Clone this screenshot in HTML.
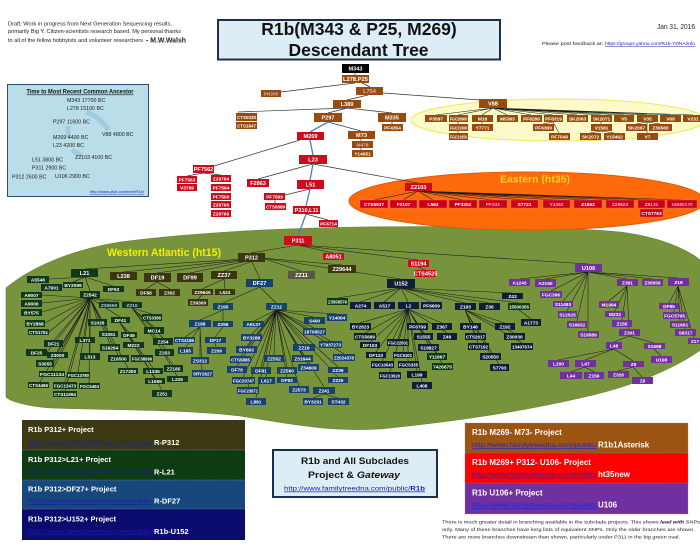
<!DOCTYPE html>
<html><head><meta charset="utf-8"><style>
html,body{margin:0;padding:0;background:#fff;width:700px;height:544px;overflow:hidden}
svg{display:block;font-family:"Liberation Sans",Arial,sans-serif}
.bx text{fill:#fff;font-weight:bold;font-size:4.8px;text-anchor:middle}
.big text{font-size:5.6px}
.ln{fill:none;stroke:#1c1c1c;stroke-width:0.55}
</style></head><body>
<svg width="700" height="544" viewBox="0 0 700 544" xmlns="http://www.w3.org/2000/svg">
<!-- Top-left draft note -->
<g font-size="5" fill="#222">
<text x="8" y="25.5" textLength="164" lengthAdjust="spacingAndGlyphs">Draft: Work in progress from Next Generation Sequencing results,</text>
<text x="8" y="33" textLength="173" lengthAdjust="spacingAndGlyphs">primarily Big Y. Citizen-scientists research based. My personal thanks</text>
<text x="8" y="42" textLength="135" lengthAdjust="spacingAndGlyphs">to all of the fellow hobbyists and volunteer researchers</text>
<text x="146" y="42.5" font-size="7" font-weight="bold" textLength="40" lengthAdjust="spacingAndGlyphs">- M.W.Walsh</text>
</g>
<!-- TMRCA box -->
<rect x="7.5" y="84.5" width="141" height="112" fill="#b9dde9" stroke="#2e4e70" stroke-width="1"/>
<g stroke="#9cc8de" stroke-width="5" fill="none" opacity="0.8">
<path d="M86,112 C96,116 104,122 108,130"/>
<path d="M68,126 L68,138"/>
<path d="M72,150 L82,156"/>
</g>
<text x="80" y="93.5" font-size="6" font-weight="bold" text-anchor="middle" text-decoration="underline" fill="#111" textLength="107" lengthAdjust="spacingAndGlyphs">Time to Most Recent Common Ancestor</text>
<g font-size="5.3" fill="#222">
<text x="67" y="102">M343  17700 BC</text>
<text x="67" y="110">L278  15100 BC</text>
<text x="53" y="123.5">P297   11600 BC</text>
<text x="102" y="136">V88  4800 BC</text>
<text x="53" y="139">M269  4400 BC</text>
<text x="53" y="147">L23    4200 BC</text>
<text x="75" y="159">Z2103 4100 BC</text>
<text x="32" y="161.5">L51    3800 BC</text>
<text x="32" y="169.5">P311   2900 BC</text>
<text x="12" y="178.5">P312  2600 BC</text>
<text x="55" y="178">U106  2900 BC</text>
</g>
<text x="90" y="193" font-size="3.6" fill="#1a1ab0" text-decoration="underline" textLength="54" lengthAdjust="spacingAndGlyphs">http://www.yfull.com/tree/R1b/</text>
<!-- Title -->
<rect x="218" y="20" width="282" height="39.5" fill="#dcedf5" stroke="#1f2d4d" stroke-width="2"/>
<text x="359" y="35" font-size="17.5" font-weight="bold" text-anchor="middle" fill="#111">R1b(M343 &amp; P25, M269)</text>
<text x="358.5" y="56" font-size="17.5" font-weight="bold" text-anchor="middle" fill="#111">Descendant Tree</text>
<text x="657" y="29" font-size="7" fill="#222" textLength="38" lengthAdjust="spacingAndGlyphs">Jan 31, 2016</text>
<text x="542" y="45" font-size="4.8" fill="#222" textLength="61" lengthAdjust="spacingAndGlyphs">Please post feedback at:</text>
<text x="605" y="45" font-size="4.8" fill="#1a1ab0" text-decoration="underline" textLength="90" lengthAdjust="spacingAndGlyphs">https://groups.yahoo.com/R1b-YDNA/info</text>

<!-- big shapes -->
<path d="M6,288 C30,268 70,250 120,242 C190,233 280,228 360,227 C450,226 560,226 620,232 C660,237 690,250 702,262 L702,349 C680,365 640,385 580,398 C520,412 450,422 380,429 C330,432 290,424 240,416 C180,409 100,410 50,408 C25,406 10,401 6,397 Z" fill="#77933c" stroke="#66803a" stroke-width="0.6"/>
<ellipse cx="558" cy="120" rx="147" ry="21" fill="#fbfac8" stroke="#efe85a" stroke-width="1"/>
<ellipse cx="527" cy="201" rx="178" ry="29" fill="#fd6a0c" stroke="#e25800" stroke-width="1"/>
<text x="535" y="182.5" font-size="10.5" font-weight="bold" text-anchor="middle" fill="#f6d31c" textLength="70" lengthAdjust="spacingAndGlyphs">Eastern (ht35)</text>
<text x="107" y="256" font-size="11" font-weight="bold" fill="#f2f000" textLength="114" lengthAdjust="spacingAndGlyphs">Western Atlantic (ht15)</text>

<!-- top lines -->
<path stroke="#333" stroke-width="0.7" fill="none" d="M355,73 L355,75 M355,83 L281,92 M362,83 L370,87 M368,95 L347,100 M383,93 L480,100 M347,108 L238,112 M347,108 L328,113 M347,108 L392,113 M328,122 L361,131 M361,139 L361,141 M361,148 L361,150 M392,122 L392,124 M300,140 L214,166 M313,164 L258,179 M313,164 L418,183 M310,189 L285,195 M275,200 L275,203 M306,214 L328,220 M203,173 L187,176 M203,173 L221,175"/>
<path stroke="#4d7cc0" stroke-width="1.3" fill="none" d="M328,122 L310,132 M310,140 L313,155 M313,164 L310,180 M310,189 L306,206 M306,214 L298,236"/>
<path class="ln" d="M418,191 L374,200 M418,191 L403,200 M418,191 L433,200 M418,191 L463,200 M418,191 L493,200 M418,191 L524,200 M418,191 L556,200 M418,191 L588,200 M418,191 L620,200 M418,191 L651,200 M418,191 L682,200 M651,208 L651,209"/>
<path class="ln" d="M493,108 L436,115 M493,108 L458,115 M493,108 L482,115 M493,108 L507,115 M493,108 L531,115 M493,108 L553,115 M493,108 L577,115 M493,108 L601,115 M493,108 L624,115 M493,108 L647,115 M493,108 L670,115 M493,108 L693,115 M458,122 L458,133 M482,122 L482,124 M553,122 L543,124 M553,122 L559,133 M601,122 L601,124 M601,131 L590,133 M601,131 L614,133 M647,122 L636,124 M647,122 L660,124 M647,122 L647,133"/>

<!-- green lines -->
<path class="ln" d="
M298,245 L251,253 M298,245 L333,253 M298,245 L418,260 M298,245 L588,264 M418,267 L425,270
M262,258 L85,269 M262,258 L123,272 M262,258 L157,273 M262,258 L190,273 M262,258 L224,271 M262,258 L301,271 M252,262 L260,279 M262,258 L342,265 M262,258 L401,279
M85,277 L49,279 M85,277 L62,287 M85,277 L73,282 M85,277 L113,286 M85,277 L90,291
M90,298 L42,295 M90,298 L42,303 M90,298 L42,312 M90,298 L45,323 M90,298 L49,332 M90,298 L54,340 M90,298 L47,352 M90,298 L57,352 M90,298 L54,363 M90,298 L52,371 M90,298 L40,382 M90,298 L65,382 M90,298 L65,391 M90,298 L78,372 M90,298 L89,383 M90,298 L85,337 M90,298 L90,353 M90,298 L97,319 M90,298 L108,331 M90,298 L110,344 M90,298 L109,302 M90,298 L132,302 M90,298 L120,317 M90,298 L118,355 M90,298 L128,368
M132,308 L152,314 M132,308 L154,327 M132,308 L163,338 M132,308 L165,349 M132,308 L173,365 M165,356 L177,376
M120,323 L129,332 M120,323 L133,342 M120,323 L142,355 M120,323 L153,368 M120,323 L155,378 M120,323 L162,390
M157,282 L146,289 M157,282 L170,289 M224,279 L202,289 M224,279 L225,289 M202,295 L198,299
M260,287 L223,303 M260,287 L276,303
M223,310 L200,320 M223,310 L223,321 M200,327 L185,337 M200,327 L186,347 M200,327 L200,357 M200,327 L202,370 M223,327 L215,337 M215,343 L216,347
M276,310 L254,321 M276,310 L252,334 M276,310 L247,346 M276,310 L241,356 M276,310 L237,366 M276,310 L243,377 M276,310 L248,387 M276,310 L256,398 M276,310 L261,367 M276,310 L266,377 M276,310 L274,355 M276,310 L287,367 M276,310 L287,377 M276,310 L299,386 M276,310 L304,344 M276,310 L302,355 M276,310 L308,364 M276,310 L324,387 M276,310 L338,367 M276,310 L338,377 M276,310 L314,317 M276,310 L337,314 M276,310 L314,328 M276,310 L330,341 M276,310 L344,354 M324,394 L313,398 M324,394 L338,398
M401,288 L338,298 M401,288 L360,302 M401,288 L384,302 M401,288 L408,302 M401,288 L431,302 M401,288 L465,303 M401,288 L489,303 M401,288 L519,303 M401,288 L512,293 M519,310 L531,319
M408,309 L360,323 M408,309 L365,333 M408,309 L370,342 M408,309 L376,352 M408,309 L382,361 M408,309 L390,372 M408,309 L398,339 M408,309 L403,352 M408,309 L408,361 M408,309 L417,371 M408,309 L422,382 M408,309 L417,323 M408,309 L423,333 M408,309 L428,344 M408,309 L442,323 M408,309 L447,333 M408,309 L437,353 M408,309 L442,363
M465,310 L470,323 M465,310 L475,333 M465,310 L478,343 M465,310 L490,353 M465,310 L499,364 M465,310 L505,323 M465,310 L514,333 M465,310 L522,343
M588,272 L520,279 M588,272 L545,279 M588,272 L551,291 M588,272 L563,301 M588,272 L567,311 M588,272 L577,321 M588,272 L588,331 M588,272 L627,279 M588,272 L652,279 M588,272 L678,278
M627,286 L609,301 M627,286 L615,311 M627,286 L622,320 M627,286 L629,329 M629,336 L614,342 M629,336 L654,343
M614,349 L558,360 M614,349 L585,360 M614,349 L633,361 M585,367 L571,372 M585,367 L594,372 M633,367 L618,371 M633,367 L642,377 M654,349 L661,356
M678,286 L669,303 M678,286 L674,312 M678,286 L680,321 M678,286 L685,329 M678,286 L694,338"/>

<!-- TOP BOXES -->
<g class="bx big">
<rect x="342" y="64" width="27" height="9" fill="#000"/><text x="355.5" y="70.3">M343</text>
<g fill="#984b0c"><rect x="342" y="75" width="27" height="8"/><rect x="356" y="87" width="27" height="8"/><rect x="333" y="100" width="28" height="8"/><rect x="314" y="113" width="28" height="9"/><rect x="378" y="113" width="28" height="9"/><rect x="348" y="131" width="27" height="8"/><rect x="479" y="99" width="28" height="9"/></g>
<text x="355.5" y="80.8" textLength="25" lengthAdjust="spacingAndGlyphs">L278,P25</text>
<text x="369.5" y="92.8" style="fill:#f0a8c0">L754</text>
<text x="347" y="105.8">L389</text>
<text x="328" y="119.3">P297</text>
<text x="392" y="119.3">M335</text>
<text x="361.5" y="136.8">M73</text>
<text x="493" y="105.3">V88</text>
<g fill="#cc0c1c"><rect x="297" y="132" width="27" height="8"/><rect x="299" y="155" width="28" height="9"/><rect x="297" y="180" width="27" height="9"/><rect x="293" y="206" width="27" height="8"/><rect x="284" y="236" width="28" height="9"/><rect x="405" y="183" width="27" height="8"/><rect x="193" y="165" width="21" height="8"/><rect x="247" y="179" width="22" height="8"/></g>
<text x="310.5" y="137.8">M269</text>
<text x="313" y="161.3">L23</text>
<text x="310.5" y="186.3">L51</text>
<text x="306.5" y="211.8" textLength="24" lengthAdjust="spacingAndGlyphs">P310,L11</text>
<text x="298" y="242.3">P311</text>
<text x="418.5" y="188.8">Z2103</text>
<text x="203.5" y="170.8" font-size="5">PF7562</text>
<text x="258" y="184.8" font-size="5">F2863</text>
</g>
<g class="bx">
<g fill="#984b0c"><rect x="261" y="90" width="20" height="7"/><rect x="236" y="113" width="21" height="8"/><rect x="236" y="122" width="21" height="7"/><rect x="382" y="124" width="21" height="7"/><rect x="352" y="141" width="21" height="7"/><rect x="352" y="150" width="21" height="7"/></g>
<text x="271" y="95.3" style="fill:#f0a8c0">PH200</text>
<text x="246.5" y="118.8" textLength="19" lengthAdjust="spacingAndGlyphs">CTS5330</text>
<text x="246.5" y="127.3" textLength="19" lengthAdjust="spacingAndGlyphs">CTS1647</text>
<text x="392.5" y="129.3">PF4354</text>
<text x="362.5" y="146.3" style="fill:#f0a8c0">M478</text>
<text x="362.5" y="155.3">Y14051</text>
<g fill="#cc0c1c"><rect x="264" y="193" width="21" height="7"/><rect x="265" y="203" width="21" height="7"/><rect x="319" y="220" width="19" height="7"/><rect x="177" y="176" width="20" height="7"/><rect x="177" y="184" width="20" height="7"/><rect x="211" y="175" width="20" height="7"/><rect x="211" y="184" width="20" height="7"/><rect x="211" y="193" width="20" height="7"/><rect x="211" y="201" width="20" height="7"/><rect x="211" y="210" width="20" height="7"/></g>
<text x="274.5" y="198.3">PF7589</text>
<text x="275.5" y="208.3" textLength="19" lengthAdjust="spacingAndGlyphs">CTS6889</text>
<text x="328.5" y="225.3">PF6714</text>
<text x="187" y="181.3">PF7563</text>
<text x="187" y="189.3">V3789</text>
<text x="221" y="180.3">Z29764</text>
<text x="221" y="189.3">PF7564</text>
<text x="221" y="198.3">PF7560</text>
<text x="221" y="206.3">Z29766</text>
<text x="221" y="215.3">Z29769</text>
</g>
<!-- orange row -->
<g class="bx">
<g fill="#c8001a" stroke="#f07080" stroke-width="0.4"><rect x="360" y="200" width="28" height="8"/><rect x="390" y="200" width="27" height="8"/><rect x="419" y="200" width="28" height="8"/><rect x="449" y="200" width="28" height="8"/><rect x="479" y="200" width="28" height="8"/><rect x="511" y="200" width="27" height="8"/><rect x="543" y="200" width="27" height="8"/><rect x="574" y="200" width="28" height="8"/><rect x="606" y="200" width="28" height="8"/><rect x="638" y="200" width="27" height="8"/><rect x="667" y="200" width="30" height="8"/><rect x="640" y="209" width="23" height="8"/></g>
<text x="374" y="205.8" font-size="5.4">CTS6937</text>
<text x="403.5" y="205.8" font-size="5.4">F2107</text>
<text x="433" y="205.8" font-size="5.4">L584</text>
<text x="463" y="205.8" font-size="5.4">PF3252</text>
<text x="493" y="205.8" font-size="5.4" style="fill:#f6b0c8">PF331</text>
<text x="524.5" y="205.8" font-size="5.4">S7721</text>
<text x="556.5" y="205.8" font-size="5.4" style="fill:#f6b0c8">Y4362</text>
<text x="588" y="205.8" font-size="5.4">Z1862</text>
<text x="620" y="205.8" font-size="5.4" style="fill:#f6b0c8">Z29823</text>
<text x="651.5" y="205.8" font-size="5.4" style="fill:#f6b0c8">Z8131</text>
<text x="682" y="205.8" font-size="5.4" style="fill:#f6b0c8">15080170</text>
<text x="651.5" y="214.8" font-size="5">CTS7763</text>
</g>
<!-- yellow row -->
<g class="bx">
<g fill="#984b0c"><rect x="425" y="115" width="22" height="7"/><rect x="449" y="115" width="19" height="7"/><rect x="472" y="115" width="21" height="7"/><rect x="497" y="115" width="21" height="7"/><rect x="521" y="115" width="21" height="7"/><rect x="544" y="115" width="19" height="7"/><rect x="567" y="115" width="21" height="7"/><rect x="591" y="115" width="21" height="7"/><rect x="614" y="115" width="20" height="7"/><rect x="637" y="115" width="21" height="7"/><rect x="660" y="115" width="21" height="7"/><rect x="683" y="115" width="20" height="7"/>
<rect x="449" y="124" width="19" height="7"/><rect x="472" y="124" width="21" height="7"/><rect x="533" y="124" width="21" height="7"/><rect x="591" y="124" width="21" height="7"/><rect x="626" y="124" width="21" height="7"/><rect x="649" y="124" width="23" height="7"/>
<rect x="449" y="133" width="19" height="7"/><rect x="549" y="133" width="21" height="7"/><rect x="580" y="133" width="21" height="7"/><rect x="604" y="133" width="21" height="7"/><rect x="637" y="133" width="21" height="7"/></g>
<g style="fill:#f0b0c0">
<text x="436" y="120.3">P3587</text><text x="458.5" y="120.3" textLength="17" lengthAdjust="spacingAndGlyphs">FGC20960</text><text x="482.5" y="120.3">M18</text><text x="507.5" y="120.3">M5363</text><text x="531.5" y="120.3">PF6289</text><text x="553.5" y="120.3">PF6319</text><text x="577.5" y="120.3">SK2063</text><text x="601.5" y="120.3">SK2071</text><text x="624" y="120.3">V5</text><text x="647.5" y="120.3">V35</text><text x="670.5" y="120.3">V69</text><text x="693" y="120.3">V231</text>
<text x="458.5" y="129.3" textLength="17" lengthAdjust="spacingAndGlyphs">FGC21006</text><text x="482.5" y="129.3">Y7771</text><text x="543.5" y="129.3">PF6369</text><text x="601.5" y="129.3">V1581</text><text x="636.5" y="129.3">SK2067</text><text x="660.5" y="129.3">Z36560</text>
<text x="458.5" y="138.3" textLength="17" lengthAdjust="spacingAndGlyphs">FGC21050</text><text x="559.5" y="138.3">PF7548</text><text x="590.5" y="138.3">SK2072</text><text x="614.5" y="138.3">Y15462</text><text x="647.5" y="138.3">V7</text>
</g>
</g>

<!-- GREEN SECTION BOXES -->
<g class="bx big">
<g fill="#3b3510"><rect x="238" y="253" width="27" height="9"/><rect x="110" y="272" width="27" height="8"/><rect x="144" y="273" width="27" height="9"/><rect x="177" y="273" width="26" height="9"/><rect x="211" y="271" width="26" height="8"/><rect x="328" y="265" width="28" height="8"/></g>
<text x="251.5" y="259.3">P312</text><text x="123.5" y="277.8">L238</text><text x="157.5" y="279.3">DF19</text><text x="190" y="279.3">DF99</text><text x="224" y="276.8">ZZ37</text><text x="342" y="270.8">Z29644</text>
<rect x="71" y="269" width="27" height="8" fill="#10381a"/><text x="84.5" y="274.8">L21</text>
<rect x="288" y="271" width="27" height="8" fill="#5a5640"/><text x="301.5" y="276.8">ZZ11</text>
<rect x="246" y="279" width="27" height="8" fill="#17426e"/><text x="259.5" y="284.8">DF27</text>
<rect x="387" y="279" width="28" height="9" fill="#101e3c"/><text x="401" y="285.3">U152</text>
<rect x="575" y="264" width="27" height="8" fill="#7030a0"/><text x="588.5" y="269.8">U106</text>
<g fill="#cc0c1c"><rect x="323" y="253" width="21" height="7"/><rect x="408" y="260" width="21" height="7"/><rect x="415" y="270" width="21" height="7"/></g>
<text x="333.5" y="258.3" font-size="4.8">A8051</text><text x="418.5" y="265.3" font-size="4.8">S1194</text><text x="425.5" y="275.3" font-size="4.8">CTS4525</text>
</g>
<!-- L21 group -->
<g class="bx">
<g fill="#10381a">
<rect x="27" y="276" width="22" height="7"/><rect x="41" y="284" width="21" height="7"/><rect x="63" y="282" width="20" height="6"/><rect x="103" y="286" width="21" height="6"/><rect x="80" y="291" width="20" height="7"/><rect x="21" y="292" width="21" height="6"/><rect x="21" y="300" width="21" height="7"/><rect x="99" y="302" width="20" height="6"/><rect x="122" y="302" width="20" height="6"/><rect x="21" y="309" width="21" height="7"/><rect x="142" y="314" width="20" height="7"/><rect x="25" y="320" width="20" height="7"/><rect x="88" y="319" width="19" height="7"/><rect x="111" y="317" width="19" height="6"/><rect x="28" y="329" width="21" height="6"/><rect x="144" y="327" width="20" height="7"/><rect x="99" y="331" width="19" height="6"/><rect x="121" y="332" width="16" height="6"/><rect x="75" y="337" width="20" height="6"/><rect x="153" y="338" width="20" height="7"/><rect x="44" y="340" width="19" height="7"/><rect x="100" y="344" width="20" height="7"/><rect x="123" y="342" width="21" height="6"/><rect x="26" y="349" width="21" height="7"/><rect x="47" y="352" width="21" height="6"/><rect x="155" y="349" width="19" height="7"/><rect x="80" y="353" width="20" height="7"/><rect x="108" y="355" width="21" height="7"/><rect x="131" y="355" width="22" height="7"/><rect x="36" y="360" width="18" height="7"/><rect x="118" y="368" width="20" height="6"/><rect x="143" y="368" width="20" height="6"/><rect x="164" y="365" width="19" height="7"/><rect x="39" y="371" width="26" height="6"/><rect x="67" y="372" width="23" height="6"/><rect x="167" y="376" width="21" height="6"/><rect x="145" y="378" width="20" height="6"/><rect x="28" y="382" width="21" height="6"/><rect x="53" y="382" width="24" height="7"/><rect x="79" y="383" width="21" height="6"/><rect x="53" y="391" width="24" height="6"/><rect x="152" y="390" width="20" height="7"/>
</g>
<text x="38" y="281.3">A5546</text><text x="51.5" y="289.3">A7901</text><text x="73" y="286.8">BY2099</text><text x="113.5" y="290.8">DF63</text><text x="90" y="296.3">Z2542</text><text x="31.5" y="296.8">A9007</text><text x="31.5" y="305.3">A9000</text><text x="109" y="306.8" style="fill:#a8c8e8">Z39659</text><text x="132" y="306.8" style="fill:#a8c8e8">ZZ10</text><text x="31.5" y="314.3">BY575</text><text x="152" y="319.3" textLength="18" lengthAdjust="spacingAndGlyphs">CTS3386</text><text x="35" y="325.3">BY2868</text><text x="97.5" y="324.3">S1026</text><text x="120.5" y="321.8">DF41</text><text x="38.5" y="333.8" textLength="19" lengthAdjust="spacingAndGlyphs">CTS1751</text><text x="154" y="332.3">MC14</text><text x="108.5" y="335.8">S1051</text><text x="129" y="336.8">DF49</text><text x="85" y="341.8">L371</text><text x="163" y="343.3">Z254</text><text x="53.5" y="345.3">DF21</text><text x="110" y="349.3">S16264</text><text x="133.5" y="346.8">M222</text><text x="36.5" y="354.3">DF25</text><text x="57.5" y="356.8">Z3000</text><text x="164.5" y="354.3">Z253</text><text x="90" y="358.3">L513</text><text x="118.5" y="360.3">Z16500</text><text x="142" y="360.3" textLength="20" lengthAdjust="spacingAndGlyphs">FGC38996</text><text x="45" y="365.3">S3055</text><text x="128" y="372.8">Z17300</text><text x="153" y="372.8">L1335</text><text x="173.5" y="370.3">ZZ185</text><text x="52" y="375.8" textLength="24" lengthAdjust="spacingAndGlyphs">FGC11134</text><text x="78.5" y="376.8" textLength="21" lengthAdjust="spacingAndGlyphs">FGC13780</text><text x="177.5" y="380.8">L226</text><text x="155" y="382.8">L1065</text><text x="38.5" y="386.8" textLength="19" lengthAdjust="spacingAndGlyphs">CTS4466</text><text x="65" y="387.3" textLength="22" lengthAdjust="spacingAndGlyphs">FGC13473</text><text x="89.5" y="387.8" textLength="19" lengthAdjust="spacingAndGlyphs">FGC5494</text><text x="65" y="395.8" textLength="22" lengthAdjust="spacingAndGlyphs">CTS11994</text><text x="162" y="395.3">Z251</text>
<g fill="#3b3510"><rect x="136" y="289" width="20" height="7"/><rect x="159" y="289" width="21" height="7"/><rect x="192" y="289" width="21" height="6"/><rect x="215" y="289" width="20" height="6"/><rect x="188" y="299" width="20" height="7"/></g>
<text x="146" y="294.3">DF88</text><text x="169.5" y="294.3">Z302</text><text x="202.5" y="293.8">Z29645</text><text x="225" y="293.8">L624</text><text x="198" y="304.3">Z39300</text>
</g>
<!-- DF27 group -->
<g class="bx">
<g fill="#17426e">
<rect x="213" y="303" width="20" height="7"/><rect x="266" y="303" width="21" height="7"/><rect x="189" y="320" width="22" height="7"/><rect x="213" y="321" width="20" height="6"/><rect x="174" y="337" width="21" height="6"/><rect x="205" y="337" width="21" height="6"/><rect x="178" y="347" width="15" height="7"/><rect x="207" y="347" width="19" height="7"/><rect x="191" y="357" width="18" height="7"/><rect x="192" y="370" width="21" height="7"/>
<rect x="243" y="321" width="21" height="6"/><rect x="304" y="317" width="21" height="7"/><rect x="327" y="314" width="20" height="7"/><rect x="303" y="328" width="23" height="7"/><rect x="241" y="334" width="21" height="7"/><rect x="319" y="341" width="23" height="7"/><rect x="293" y="344" width="22" height="7"/><rect x="236" y="346" width="21" height="7"/><rect x="333" y="354" width="22" height="7"/><rect x="230" y="356" width="21" height="7"/><rect x="264" y="355" width="20" height="7"/><rect x="292" y="355" width="21" height="7"/><rect x="298" y="364" width="21" height="7"/><rect x="227" y="366" width="20" height="7"/><rect x="251" y="367" width="20" height="7"/><rect x="277" y="367" width="20" height="7"/><rect x="328" y="367" width="20" height="6"/><rect x="232" y="377" width="23" height="7"/><rect x="258" y="377" width="17" height="7"/><rect x="277" y="377" width="20" height="6"/><rect x="328" y="377" width="20" height="6"/><rect x="237" y="387" width="22" height="7"/><rect x="289" y="386" width="20" height="7"/><rect x="313" y="387" width="22" height="7"/><rect x="246" y="398" width="20" height="7"/><rect x="303" y="398" width="20" height="7"/><rect x="328" y="398" width="21" height="7"/>
</g>
<text x="223" y="308.3">Z195</text><text x="276.5" y="308.3">ZZ12</text><text x="200" y="325.3">Z198</text><text x="223" y="325.8">Z296</text><text x="184.5" y="341.8" textLength="19" lengthAdjust="spacingAndGlyphs">CTS4185</text><text x="215.5" y="341.8">DF17</text><text x="185.5" y="352.3">L165</text><text x="216.5" y="352.3">Z209</text><text x="200" y="362.3">ZS312</text><text x="202.5" y="375.3" textLength="19" lengthAdjust="spacingAndGlyphs">SRY2627</text>
<text x="253.5" y="325.8">A6137</text><text x="314.5" y="322.3">S400</text><text x="337" y="319.3">Y14004</text><text x="314.5" y="333.3" textLength="21" lengthAdjust="spacingAndGlyphs">18708527</text><text x="251.5" y="339.3">BY3288</text><text x="330.5" y="346.3" textLength="21" lengthAdjust="spacingAndGlyphs">Y7937273</text><text x="304" y="349.3">ZZ19</text><text x="246.5" y="351.3">BY663</text><text x="344" y="359.3" textLength="20" lengthAdjust="spacingAndGlyphs">Z2024378</text><text x="240.5" y="361.3" textLength="19" lengthAdjust="spacingAndGlyphs">CTS5885</text><text x="274" y="360.3">ZZ552</text><text x="302.5" y="360.3">Z31644</text><text x="308.5" y="369.3">Z34609</text><text x="237" y="371.3">DF79</text><text x="261" y="372.3">DF81</text><text x="287" y="372.3">ZZ560</text><text x="338" y="371.8">ZZ39</text><text x="243.5" y="382.3" textLength="21" lengthAdjust="spacingAndGlyphs">FGC20747</text><text x="266.5" y="382.3">L617</text><text x="287" y="381.8">DF83</text><text x="338" y="381.8">Z225</text><text x="248" y="392.3" textLength="20" lengthAdjust="spacingAndGlyphs">FGC23871</text><text x="299" y="391.3">Z2573</text><text x="324" y="392.3">Z241</text><text x="256" y="403.3">L881</text><text x="313" y="403.3">BY3291</text><text x="338.5" y="403.3">ST432</text>
</g>
<!-- U152 group -->
<g class="bx">
<g fill="#101e3c">
<rect x="350" y="302" width="21" height="7"/><rect x="374" y="302" width="21" height="7"/><rect x="398" y="302" width="21" height="7"/><rect x="421" y="302" width="21" height="7"/><rect x="350" y="323" width="21" height="7"/><rect x="407" y="323" width="21" height="7"/><rect x="432" y="323" width="20" height="7"/><rect x="354" y="333" width="22" height="7"/><rect x="414" y="333" width="19" height="7"/><rect x="437" y="333" width="20" height="7"/><rect x="387" y="339" width="22" height="7"/><rect x="360" y="342" width="20" height="6"/><rect x="418" y="344" width="21" height="7"/><rect x="393" y="352" width="20" height="6"/><rect x="366" y="352" width="20" height="6"/><rect x="371" y="361" width="23" height="7"/><rect x="398" y="361" width="21" height="7"/><rect x="379" y="372" width="22" height="7"/><rect x="407" y="371" width="20" height="7"/><rect x="412" y="382" width="20" height="7"/>
<rect x="502" y="293" width="21" height="6"/><rect x="455" y="303" width="21" height="7"/><rect x="479" y="303" width="21" height="7"/><rect x="521" y="319" width="20" height="7"/><rect x="460" y="323" width="21" height="7"/><rect x="495" y="323" width="20" height="7"/><rect x="465" y="333" width="21" height="7"/><rect x="504" y="333" width="21" height="7"/><rect x="468" y="343" width="21" height="7"/><rect x="511" y="343" width="22" height="7"/><rect x="480" y="353" width="21" height="7"/><rect x="490" y="364" width="19" height="7"/>
</g>
<g fill="#0d3a14"><rect x="327" y="298" width="21" height="7"/><rect x="427" y="353" width="20" height="7"/><rect x="432" y="363" width="21" height="7"/><rect x="508" y="303" width="22" height="7"/></g>
<text x="337.5" y="303.3" textLength="19" lengthAdjust="spacingAndGlyphs">Z3558579</text><text x="360.5" y="307.3">A274</text><text x="384.5" y="307.3">A517</text><text x="408.5" y="307.3">L2</text><text x="431.5" y="307.3">PF6609</text><text x="360.5" y="328.3">BY2823</text><text x="417.5" y="328.3">PF6709</text><text x="442" y="328.3">Z367</text><text x="365" y="338.3" textLength="20" lengthAdjust="spacingAndGlyphs">CTS5689</text><text x="423.5" y="338.3">S1555</text><text x="447" y="338.3">Z49</text><text x="398" y="344.3" textLength="20" lengthAdjust="spacingAndGlyphs">FGC22501</text><text x="370" y="346.8">DF103</text><text x="428.5" y="349.3">S18827</text><text x="403" y="356.8" textLength="18" lengthAdjust="spacingAndGlyphs">FGC5301</text><text x="376" y="356.8">DF110</text><text x="437" y="358.3">Y11667</text><text x="382.5" y="366.3" textLength="21" lengthAdjust="spacingAndGlyphs">FGC10543</text><text x="408.5" y="366.3" textLength="19" lengthAdjust="spacingAndGlyphs">FGC5335</text><text x="442.5" y="368.3" textLength="19" lengthAdjust="spacingAndGlyphs">7426675</text><text x="390" y="377.3" textLength="20" lengthAdjust="spacingAndGlyphs">FGC13620</text><text x="417" y="376.3">L199</text><text x="422" y="387.3">L408</text>
<text x="512.5" y="297.8">Z43</text><text x="465.5" y="308.3">Z193</text><text x="489.5" y="308.3">Z36</text><text x="519" y="308.3" textLength="20" lengthAdjust="spacingAndGlyphs">15500355</text><text x="531" y="324.3">A1773</text><text x="470.5" y="328.3">BY146</text><text x="505" y="328.3">Z192</text><text x="475.5" y="338.3" textLength="19" lengthAdjust="spacingAndGlyphs">CTS2617</text><text x="514.5" y="338.3">Z30030</text><text x="478.5" y="348.3" textLength="19" lengthAdjust="spacingAndGlyphs">CTS7192</text><text x="522" y="348.3" textLength="20" lengthAdjust="spacingAndGlyphs">13407674</text><text x="490.5" y="358.3">S20550</text><text x="499.5" y="369.3">S7793</text>
</g>
<!-- U106 group -->
<g class="bx">
<g fill="#7030a0">
<rect x="509" y="279" width="21" height="7"/><rect x="535" y="279" width="21" height="8"/><rect x="617" y="279" width="21" height="7"/><rect x="642" y="279" width="21" height="7"/><rect x="668" y="278" width="21" height="8"/><rect x="540" y="291" width="22" height="7"/><rect x="553" y="301" width="20" height="6"/><rect x="599" y="301" width="20" height="7"/><rect x="659" y="303" width="20" height="6"/><rect x="558" y="311" width="19" height="7"/><rect x="605" y="311" width="20" height="6"/><rect x="663" y="312" width="23" height="7"/><rect x="567" y="321" width="20" height="7"/><rect x="612" y="320" width="20" height="7"/><rect x="670" y="321" width="20" height="7"/><rect x="619" y="329" width="21" height="7"/><rect x="675" y="329" width="21" height="7"/><rect x="578" y="331" width="21" height="7"/><rect x="688" y="338" width="14" height="6"/><rect x="606" y="342" width="16" height="7"/><rect x="644" y="343" width="21" height="6"/><rect x="651" y="356" width="21" height="7"/><rect x="548" y="360" width="21" height="7"/><rect x="575" y="360" width="21" height="7"/><rect x="623" y="361" width="21" height="6"/><rect x="560" y="372" width="22" height="7"/><rect x="584" y="372" width="20" height="7"/><rect x="608" y="371" width="21" height="7"/><rect x="632" y="377" width="21" height="7"/>
</g>
<text x="519.5" y="284.3">A1243</text><text x="545.5" y="284.8">A2150</text><text x="627.5" y="284.3">Z381</text><text x="652.5" y="284.3">Z30056</text><text x="678.5" y="283.8">Z18</text><text x="551" y="296.3">FGC396</text><text x="563" y="305.8">S11493</text><text x="609" y="306.3">M1994</text><text x="669" y="307.8">DF95</text><text x="567.5" y="316.3">S12025</text><text x="615" y="315.8">M232</text><text x="674.5" y="317.3">FGC5795</text><text x="577" y="326.3">S16632</text><text x="622" y="325.3">Z156</text><text x="680" y="326.3">S11601</text><text x="629.5" y="334.3">Z301</text><text x="685.5" y="334.3">S6317</text><text x="588.5" y="336.3">S19589</text><text x="695" y="342.8">Z17</text><text x="614" y="347.3">L48</text><text x="654.5" y="347.8">S1688</text><text x="661.5" y="361.3">U198</text><text x="558.5" y="365.3">L200</text><text x="585.5" y="365.3">L47</text><text x="633.5" y="365.8">Z9</text><text x="571" y="377.3">L44</text><text x="594" y="377.3">Z159</text><text x="618.5" y="376.3">Z326</text><text x="642.5" y="382.3">Z8</text>
</g>

<!-- Left legend -->
<g>
<rect x="22" y="420" width="223" height="30" fill="#3d3a13"/>
<rect x="22" y="450" width="223" height="30" fill="#0e3c12"/>
<rect x="22" y="480" width="223" height="29" fill="#17487c"/>
<rect x="22" y="509" width="223" height="31" fill="#0b0b6e"/>
<path d="M22,450 H245 M22,480 H245 M22,509 H245" stroke="#8899aa" stroke-width="0.5" stroke-dasharray="1.5,1"/>
<g font-size="7.5" font-weight="bold" fill="#fff">
<text x="28" y="432">R1b P312+ Project</text>
<text x="28" y="462">R1b P312&gt;L21+ Project</text>
<text x="28" y="491.5">R1b P312&gt;DF27+ Project</text>
<text x="28" y="521.5">R1b P312&gt;U152+ Project</text>
<text x="154" y="445">R-P312</text>
<text x="154" y="474.5">R-L21</text>
<text x="154" y="503.5">R-DF27</text>
<text x="154" y="534">R1b-U152</text>
</g>
<g font-size="6.5" fill="#1c1cb0" text-decoration="underline">
<text x="28" y="444.5" textLength="125" lengthAdjust="spacingAndGlyphs">http://www.familytreedna.com/public/</text>
<text x="28" y="474" textLength="125" lengthAdjust="spacingAndGlyphs">http://www.familytreedna.com/public/</text>
<text x="28" y="503" textLength="125" lengthAdjust="spacingAndGlyphs">http://www.familytreedna.com/public/</text>
<text x="28" y="533.5" textLength="125" lengthAdjust="spacingAndGlyphs">http://www.familytreedna.com/public/</text>
</g>
</g>
<!-- Center box -->
<rect x="273" y="450" width="164" height="47" fill="#dcedf5" stroke="#1f2d4d" stroke-width="2"/>
<text x="355" y="464" font-size="9.5" font-weight="bold" text-anchor="middle" fill="#111" textLength="108" lengthAdjust="spacingAndGlyphs">R1b and All Subclades</text>
<text x="354" y="478" font-size="9.5" font-weight="bold" text-anchor="middle" fill="#111" textLength="92" lengthAdjust="spacingAndGlyphs">Project &amp; <tspan font-style="italic">Gateway</tspan></text>
<text x="284" y="490.5" font-size="6.8" fill="#1a1ab8" text-decoration="underline" textLength="141" lengthAdjust="spacingAndGlyphs">http://www.familytreedna.com/public/<tspan font-weight="bold">R1b</tspan></text>
<!-- Right legend -->
<g>
<rect x="465" y="423" width="223" height="30" fill="#9b5411"/>
<rect x="465" y="453" width="223" height="30" fill="#fe0000"/>
<rect x="465" y="483" width="223" height="31" fill="#7030a0"/>
<rect x="465" y="423" width="223" height="91" fill="none" stroke="#8a8aa0" stroke-width="0.5" stroke-dasharray="1.5,1"/>
<path d="M465,453 H688 M465,483 H688" stroke="#8a8aa0" stroke-width="0.5" stroke-dasharray="1.5,1"/>
<g font-size="8" font-weight="bold" fill="#fff">
<text x="472" y="435">R1b M269- M73- Project</text>
<text x="472" y="465">R1b M269+ P312- U106- Project</text>
<text x="472" y="495.5">R1b U106+ Project</text>
<text x="598" y="447.5">R1b1Asterisk</text>
<text x="598" y="477">ht35new</text>
<text x="598" y="507.5">U106</text>
</g>
<g font-size="6.8" fill="#2424d0" text-decoration="underline">
<text x="472" y="447" textLength="125" lengthAdjust="spacingAndGlyphs">http://www.familytreedna.com/public/</text>
<text x="472" y="476.5" textLength="125" lengthAdjust="spacingAndGlyphs">http://www.familytreedna.com/public/</text>
<text x="472" y="507" textLength="125" lengthAdjust="spacingAndGlyphs">http://www.familytreedna.com/public/</text>
</g>
</g>
<!-- footer -->
<g font-size="4.9" fill="#222">
<text x="442" y="523.5" textLength="258" lengthAdjust="spacingAndGlyphs">There is much greater detail in branching available in the subclade projects. This shows <tspan font-weight="bold" font-style="italic">lead with</tspan> SNPs</text>
<text x="442" y="531" textLength="253" lengthAdjust="spacingAndGlyphs">only. Many of these branches have long lists of equivalent SNPs. Only the older branches are shown.</text>
<text x="442" y="538.5" textLength="238" lengthAdjust="spacingAndGlyphs">There are more branches downstream than shown, particularly under P311 in the big green oval.</text>
</g>
</svg>
</body></html>
